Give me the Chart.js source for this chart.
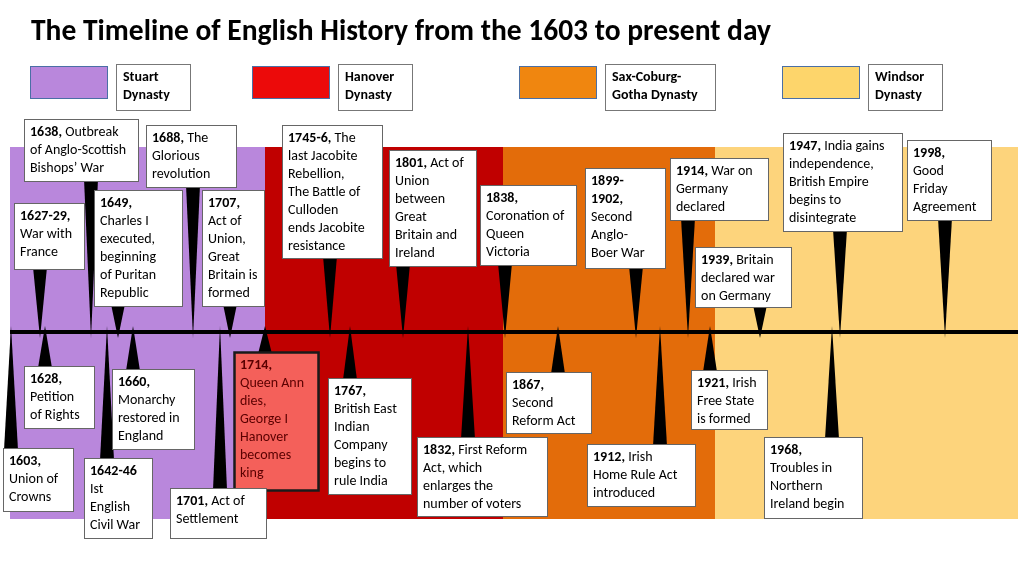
<!DOCTYPE html>
<html>
<head>
<meta charset="utf-8">
<script src="https://cdn.jsdelivr.net/npm/chart.js@4/dist/chart.umd.min.js"></script>
<style>
  html, body { margin: 0; padding: 0; background: #fff; }
  #wrap { width: 1024px; height: 574px; }
</style>
</head>
<body>
<div id="wrap"><canvas id="c" width="1024" height="574"></canvas></div>
<script>
// page coordinates are used as the chart's own value space (x 0-1024, y 0-574)
const FONT = "'Carlito', 'Liberation Sans Narrow', 'Noto Sans', sans-serif";

const dynastyNames = [['Stuart', 'Dynasty'], ['Hanover', 'Dynasty'], ['Sax-Coburg-', 'Gotha Dynasty'], ['Windsor', 'Dynasty']];
const dynastyColors = ['#b987dc', '#c00000', '#e36c0a', '#fdd47c'];
const legendColors = ['#b987dc', '#ec0a0a', '#f0860f', '#fdd56b'];
const bandStart = [10, 265, 503, 715];
const bandEnd = [265, 503, 715, 1018];
const legendX = [30, 252, 519, 782];

// events: year label, rest of text lines, box [x, y, w, h], tip position on the line, side
const evYears = ['1638,', '1627-29,', '1649,', '1688,', '1707,', '1745-6,', '1801,', '1838,', '1899-', '1914,', '1947,', '1939,', '1998,',
  '1603,', '1628,', '1642-46', '1660,', '1714,', '1701,', '1767,', '1832,', '1867,', '1912,', '1921,', '1968,'];
const evText = [
  [' Outbreak', 'of Anglo-Scottish', 'Bishops\u2019 War'],
  ['', 'War with', 'France'],
  ['', 'Charles I', 'executed,', 'beginning', 'of Puritan', 'Republic'],
  [' The', 'Glorious', 'revolution'],
  ['', 'Act of', 'Union,', 'Great', 'Britain is', 'formed'],
  [' The', 'last Jacobite', 'Rebellion,', 'The Battle of', 'Culloden', 'ends Jacobite', 'resistance'],
  [' Act of', 'Union', 'between', 'Great', 'Britain and', 'Ireland'],
  ['', 'Coronation of', 'Queen', 'Victoria'],
  ['', '@1902,', 'Second', 'Anglo-', 'Boer War'],
  [' War on', 'Germany', 'declared'],
  [' India gains', 'independence,', 'British Empire', 'begins to', 'disintegrate'],
  [' Britain', 'declared war', 'on Germany'],
  ['', 'Good', 'Friday', 'Agreement'],
  ['', 'Union of', 'Crowns'],
  ['', 'Petition', 'of Rights'],
  ['', 'Ist', 'English', 'Civil War'],
  ['', 'Monarchy', 'restored in', 'England'],
  ['', 'Queen Ann', 'dies,', 'George I', 'Hanover', 'becomes', 'king'],
  [' Act of', 'Settlement'],
  ['', 'British East', 'Indian', 'Company', 'begins to', 'rule India'],
  [' First Reform', 'Act, which', 'enlarges the', 'number of voters'],
  ['', 'Second', 'Reform Act'],
  [' Irish', 'Home Rule Act', 'introduced'],
  [' Irish', 'Free State', 'is formed'],
  ['', 'Troubles in', 'Northern', 'Ireland begin']
];
const evBox = [
  [24, 119, 114, 62], [14, 203, 70, 66], [94, 190, 88, 116], [146, 125, 90, 62], [202, 190, 62, 116],
  [282, 125, 100, 133], [389, 150, 87, 116], [480, 185, 96, 80], [585, 168, 80, 100], [670, 158, 98, 62],
  [783, 133, 119, 98], [695, 247, 96, 60], [907, 140, 84, 80],
  [3, 448, 70, 63], [24, 366, 70, 62], [84, 458, 68, 80], [112, 369, 82, 80], [234, 352, 84, 138],
  [170, 488, 96, 50], [328, 378, 83, 116], [417, 437, 130, 79], [506, 372, 85, 61], [587, 444, 108, 62],
  [691, 370, 76, 59], [764, 437, 98, 81]
];
const evTip = [91, 40, 118, 193, 230, 330, 403, 505, 636, 688, 840, 760, 945,
  11, 45, 107, 133, 265, 220, 350, 468, 558, 660, 710, 832];
const evSide = ['up', 'up', 'up', 'up', 'up', 'up', 'up', 'up', 'up', 'up', 'up', 'up', 'up',
  'down', 'down', 'down', 'down', 'down', 'down', 'down', 'down', 'down', 'down', 'down', 'down'];

const lineY = 332;

const timeline = {
  id: 'timeline',
  beforeDatasetsDraw(chart) {
    const { ctx, scales: { x, y } } = chart;
    const px = v => x.getPixelForValue(v);
    const py = v => y.getPixelForValue(v);
    ctx.save();
    // title
    ctx.fillStyle = '#000';
    ctx.font = "bold 29.5px " + FONT;
    ctx.textBaseline = 'middle';
    ctx.fillText('The Timeline of English History from the 1603 to present day', px(31), py(33));
    // legend
    dynastyNames.forEach((n, i) => {
      ctx.fillStyle = legendColors[i];
      ctx.fillRect(px(legendX[i]), py(66), px(legendX[i] + 77) - px(legendX[i]), py(98) - py(66));
      ctx.strokeStyle = '#4a6fa5'; ctx.lineWidth = 1;
      ctx.strokeRect(px(legendX[i]) + 0.5, py(66) + 0.5, px(legendX[i] + 77) - px(legendX[i]), py(98) - py(66));
      const bx = legendX[i] + 86, bw = i === 2 ? 110 : 74;
      ctx.fillStyle = '#fff';
      ctx.fillRect(px(bx), py(64), bw, 46);
      ctx.strokeStyle = '#777';
      ctx.strokeRect(px(bx) + 0.5, py(64) + 0.5, bw, 46);
      ctx.fillStyle = '#000';
      ctx.font = "bold 14px " + FONT;
      ctx.textBaseline = 'top';
      n.forEach((t, k) => ctx.fillText(t, px(bx + 7), py(70 + k * 18)));
    });
    // bands
    bandStart.forEach((s, i) => {
      ctx.fillStyle = dynastyColors[i];
      ctx.fillRect(px(s), py(147), px(bandEnd[i]) - px(s), py(519) - py(147));
    });
    // spikes
    ctx.fillStyle = '#000';
    evBox.forEach((b, i) => {
      const baseX = Math.min(Math.max(evTip[i], b[0] + 8), b[0] + b[2] - 8);
      const up = evSide[i] === 'up';
      const baseY = up ? b[1] + b[3] - 2 : b[1] + 2;
      const tipY = up ? lineY + 6 : lineY - 6;
      ctx.beginPath();
      ctx.moveTo(px(baseX - 7), py(baseY));
      ctx.lineTo(px(baseX + 7), py(baseY));
      ctx.lineTo(px(evTip[i]), py(tipY));
      ctx.closePath();
      ctx.fill();
    });
    // axis line
    ctx.fillRect(px(10), py(lineY) - 2, px(1018) - px(10), 4);
    // boxes
    evBox.forEach((b, i) => {
      const special = evYears[i] === '1714,';
      ctx.fillStyle = special ? '#f4605a' : '#fff';
      ctx.fillRect(px(b[0]), py(b[1]), px(b[0] + b[2]) - px(b[0]), py(b[1] + b[3]) - py(b[1]));
      ctx.strokeStyle = special ? '#1a1a1a' : '#666';
      ctx.lineWidth = special ? 2.5 : 1;
      ctx.strokeRect(px(b[0]) + 0.5, py(b[1]) + 0.5, px(b[0] + b[2]) - px(b[0]), py(b[1] + b[3]) - py(b[1]));
      ctx.fillStyle = special ? '#5a0000' : '#000';
      ctx.textBaseline = 'top';
      const tx = px(b[0] + 6);
      let ty = py(b[1] + 6);
      ctx.font = "bold 14px " + FONT;
      ctx.fillText(evYears[i], tx, ty);
      const w = ctx.measureText(evYears[i]).width;
      evText[i].forEach((t, k) => {
        if (k === 0) {
          ctx.font = "14px " + FONT;
          ctx.fillText(t, tx + w, ty);
          return;
        }
        ty += 18;
        if (t.startsWith('@')) { ctx.font = "bold 14px " + FONT; ctx.fillText(t.slice(1), tx, ty); return; }
        ctx.font = "14px " + FONT;
        ctx.fillText(t, tx, ty);
      });
    });
    ctx.restore();
  }
};

new Chart(document.getElementById('c'), {
  type: 'scatter',
  data: { datasets: [{ data: evTip.map(t => ({ x: t, y: lineY })), pointRadius: 0 }] },
  options: {
    responsive: false,
    animation: false,
    events: [],
    layout: { padding: 0 },
    plugins: { legend: { display: false }, tooltip: { enabled: false } },
    scales: {
      x: { type: 'linear', min: 0, max: 1024, display: false },
      y: { type: 'linear', min: 0, max: 574, reverse: true, display: false }
    }
  },
  plugins: [timeline]
});
</script>
</body>
</html>
